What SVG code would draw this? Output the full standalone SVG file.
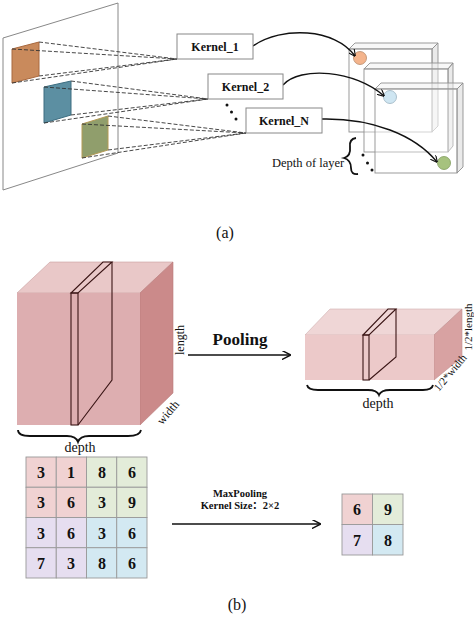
<svg xmlns="http://www.w3.org/2000/svg" width="474" height="625" viewBox="0 0 474 625">
<defs>
<style>
.serif{font-family:"Liberation Serif","Noto Sans CJK SC",serif;fill:#111}
.b{font-weight:bold}
.dash{stroke:#333;stroke-width:0.9;stroke-dasharray:4,2;fill:none}
.kbox{fill:#fff;stroke:#888;stroke-width:1}
.klab{font-size:12px;font-weight:bold;text-anchor:middle}
.cf{fill:#fff;fill-opacity:0.35;stroke:#909090;stroke-width:0.9}
.cs{fill:#d6d6d6;fill-opacity:0.5;stroke:#909090;stroke-width:0.9}
.ct{fill:#f2f2f2;fill-opacity:0.5;stroke:#909090;stroke-width:0.9}
.arrow{fill:none;stroke:#111;stroke-width:1.4}
.slab{fill:none;stroke:#3a1515;stroke-width:1.1}
.brace{fill:none;stroke:#111;stroke-width:1.8}
.cell{stroke:#999;stroke-width:0.9}
.num{font-size:16px;font-weight:bold;text-anchor:middle}
</style>
<marker id="ah" viewBox="0 0 10 10" refX="9" refY="5" markerWidth="7" markerHeight="7" orient="auto" markerUnits="userSpaceOnUse">
<path d="M0,0 L10,5 L0,10" fill="none" stroke="#111" stroke-width="1.6"/>
</marker>
<marker id="ah2" viewBox="0 0 10 10" refX="9" refY="5" markerWidth="9" markerHeight="9" orient="auto" markerUnits="userSpaceOnUse">
<path d="M0,0 L10,5 L0,10" fill="none" stroke="#111" stroke-width="1.6"/>
</marker>
</defs>
<rect width="474" height="625" fill="#fff"/>

<!-- (a) input plane -->
<g id="input-plane">
<polygon points="3,38 118,3 118,153 3,190" fill="#fff" stroke="#888" stroke-width="1"/>
<polygon points="12,49 39,42 39,76 12,83" fill="#c98a5c" stroke="#a8683e" stroke-width="1"/>
<polygon points="44,87 71,81 71,115 44,123" fill="#5c8fa2" stroke="#3c6d80" stroke-width="1"/>
<polygon points="82,124 108,116 108,150 82,158" fill="#909e6c" stroke="#b59a55" stroke-width="1"/>
</g>

<!-- feature maps stack -->
<g id="feature-maps">
<polygon class="ct" points="349,49 355,43 438,43 432,49"/>
<polygon class="cs" points="432,49 438,43 438,126 432,132"/>
<rect class="cf" x="349" y="49" width="83" height="83"/>
<polygon class="ct" points="364,69 370,63 453,63 448,69"/>
<polygon class="cs" points="448,69 453,63 453,146 448,152"/>
<rect class="cf" x="364" y="69" width="84" height="83"/>
<polygon class="ct" points="375,89 381,83 463,83 457,89"/>
<polygon class="cs" points="457,89 463,83 463,167 457,173"/>
<rect class="cf" x="375" y="89" width="82" height="84"/>
<circle cx="360" cy="58" r="6.5" fill="#f4b48c" stroke="#b88a6a" stroke-width="0.8"/>
<circle cx="390" cy="97" r="6.5" fill="#cfe6f2" stroke="#9ab2c0" stroke-width="0.8"/>
<circle cx="444" cy="163" r="6.5" fill="#a6c27e" stroke="#7f9a5c" stroke-width="0.8"/>
</g>

<g id="connectors">
<!-- dashed projection lines -->
<path class="dash" d="M39,42 L177,59 M12,49 L177,59 M39,76 L177,59 M12,83 L177,59"/>
<path class="dash" d="M71,81 L208,99 M44,87 L208,99 M71,115 L208,99 M44,123 L208,99"/>
<path class="dash" d="M108,116 L246,133 M82,124 L246,133 M108,150 L246,133 M82,158 L246,133"/>
<!-- curved arrows -->
<path class="arrow" d="M253,46 C282,26 335,28 355,56" marker-end="url(#ah)"/>
<path class="arrow" d="M283,85 C300,66 355,70 384,96" marker-end="url(#ah)"/>
<path class="arrow" d="M322,119 C372,118 415,135 437,162" marker-end="url(#ah)"/>
<!-- pooling arrows -->
<line x1="188" y1="355" x2="290" y2="355" stroke="#111" stroke-width="1.4" marker-end="url(#ah2)"/>
<line x1="172" y1="524" x2="320" y2="524" stroke="#111" stroke-width="1.4" marker-end="url(#ah2)"/>
</g>

<g id="kernel-1"><rect class="kbox" x="177" y="34" width="76" height="25"/><text class="serif klab" x="215" y="51">Kernel_1</text></g>
<g id="kernel-2"><rect class="kbox" x="208" y="74" width="75" height="25"/><text class="serif klab" x="245.5" y="91">Kernel_2</text></g>
<g id="kernel-n"><rect class="kbox" x="246" y="108" width="76" height="25"/><text class="serif klab" x="284" y="125">Kernel_N</text></g>
<g id="kernel-dots" fill="#111">
<circle cx="227" cy="105" r="1.5"/><circle cx="231.5" cy="112" r="1.5"/><circle cx="236" cy="119" r="1.5"/>
</g>

<g id="depth-of-layer">
<text class="serif" x="272" y="167" font-size="12.5">Depth of layer</text>
<path class="brace" stroke-width="1.4" d="M356,138 Q349,139 350,147 Q351,156 344,158 Q351,160 351,168 Q351,175 358,174"/>
<circle cx="363" cy="155" r="1.5" fill="#111"/><circle cx="367.5" cy="163" r="1.5" fill="#111"/><circle cx="372" cy="170" r="1.5" fill="#111"/>
</g>

<text class="serif" x="225" y="238" font-size="16" text-anchor="middle">(a)</text>

<!-- (b) big cube -->
<g id="big-cube">
<polygon points="17,293 50,262 173,262 140,293" fill="#e9c8c8" stroke="#c9a0a0" stroke-width="0.6"/>
<polygon points="140,293 173,262 173,393 140,425" fill="#cb8a8a" stroke="#b87a7a" stroke-width="0.6"/>
<rect x="17" y="293" width="123" height="132" fill="#ddaeb0"/>
<polygon class="slab" points="71,293 103,262 112,262 78,293"/>
<rect class="slab" x="71" y="293" width="7" height="132"/>
<path class="slab" d="M112,262 L112,380 L78,425"/>
<path class="brace" d="M18,430 Q18,436 30,436 L67,436 Q76,436 78,442 Q80,436 89,436 L128,436 Q140,436 141,430"/>
<text class="serif" x="80" y="452" font-size="14" text-anchor="middle">depth</text>
<text class="serif" font-size="12" text-anchor="middle" transform="translate(184,340) rotate(-90)">length</text>
<text class="serif" font-size="12" text-anchor="middle" transform="translate(171,415) rotate(-50)">width</text>
</g>

<text class="serif b" x="240" y="345" font-size="17" text-anchor="middle">Pooling</text>

<!-- small cube -->
<g id="small-cube">
<polygon points="305,335 330,309 462,309 434,335" fill="#efd6d6" stroke="#d0b0b0" stroke-width="0.6"/>
<polygon points="434,335 462,309 462,357 434,380" fill="#d8a2a2" stroke="#c09090" stroke-width="0.6"/>
<rect x="305" y="335" width="129" height="45" fill="#ecc9c9"/>
<polygon class="slab" points="363,335 388,309 396,309 369,335"/>
<rect class="slab" x="363" y="335" width="6" height="45"/>
<path class="slab" d="M396,309 L396,357 L369,380"/>
<path class="brace" d="M307,385 Q308,390 318,390 L368,390 Q377,390 379,395 Q381,390 390,390 L423,390 Q432,390 433,385"/>
<text class="serif" x="378" y="408" font-size="14" text-anchor="middle">depth</text>
<text class="serif" font-size="11" text-anchor="middle" transform="translate(472,327) rotate(-90)">1/2*length</text>
<text class="serif" font-size="11" text-anchor="middle" transform="translate(453,375) rotate(-50)">1/2*width</text>
</g>

<!-- input grid -->
<g id="input-grid">
<rect class="cell" x="26" y="457" width="30.25" height="30.25" fill="#f0d2d2"/>
<rect class="cell" x="56.25" y="457" width="30.25" height="30.25" fill="#f0d2d2"/>
<rect class="cell" x="86.5" y="457" width="30.25" height="30.25" fill="#e3ecd9"/>
<rect class="cell" x="116.75" y="457" width="30.25" height="30.25" fill="#e3ecd9"/>
<rect class="cell" x="26" y="487.25" width="30.25" height="30.25" fill="#f0d2d2"/>
<rect class="cell" x="56.25" y="487.25" width="30.25" height="30.25" fill="#f0d2d2"/>
<rect class="cell" x="86.5" y="487.25" width="30.25" height="30.25" fill="#e3ecd9"/>
<rect class="cell" x="116.75" y="487.25" width="30.25" height="30.25" fill="#e3ecd9"/>
<rect class="cell" x="26" y="517.5" width="30.25" height="30.25" fill="#e6def0"/>
<rect class="cell" x="56.25" y="517.5" width="30.25" height="30.25" fill="#e6def0"/>
<rect class="cell" x="86.5" y="517.5" width="30.25" height="30.25" fill="#d3e9f2"/>
<rect class="cell" x="116.75" y="517.5" width="30.25" height="30.25" fill="#d3e9f2"/>
<rect class="cell" x="26" y="547.75" width="30.25" height="30.25" fill="#e6def0"/>
<rect class="cell" x="56.25" y="547.75" width="30.25" height="30.25" fill="#e6def0"/>
<rect class="cell" x="86.5" y="547.75" width="30.25" height="30.25" fill="#d3e9f2"/>
<rect class="cell" x="116.75" y="547.75" width="30.25" height="30.25" fill="#d3e9f2"/>
<g class="serif num">
<text x="41" y="478">3</text><text x="71" y="478">1</text><text x="102" y="478">8</text><text x="132" y="478">6</text>
<text x="41" y="508">3</text><text x="71" y="508">6</text><text x="102" y="508">3</text><text x="132" y="508">9</text>
<text x="41" y="538.5">3</text><text x="71" y="538.5">6</text><text x="102" y="538.5">3</text><text x="132" y="538.5">6</text>
<text x="41" y="569">7</text><text x="71" y="569">3</text><text x="102" y="569">8</text><text x="132" y="569">6</text>
</g>
</g>

<g id="maxpool-label" class="serif b" font-size="10.5" text-anchor="middle">
<text x="240" y="497">MaxPooling</text>
<text x="240" y="509">Kernel Size：2×2</text>
</g>

<!-- output grid -->
<g id="output-grid">
<rect class="cell" x="342" y="494" width="30.5" height="30.5" fill="#f0d2d2"/>
<rect class="cell" x="372.5" y="494" width="30.5" height="30.5" fill="#e3ecd9"/>
<rect class="cell" x="342" y="524.5" width="30.5" height="30.5" fill="#e6def0"/>
<rect class="cell" x="372.5" y="524.5" width="30.5" height="30.5" fill="#d3e9f2"/>
<g class="serif num">
<text x="357" y="515">6</text><text x="388" y="515">9</text>
<text x="357" y="545.5">7</text><text x="388" y="545.5">8</text>
</g>
</g>

<text class="serif" x="237" y="610" font-size="16" text-anchor="middle">(b)</text>
</svg>
